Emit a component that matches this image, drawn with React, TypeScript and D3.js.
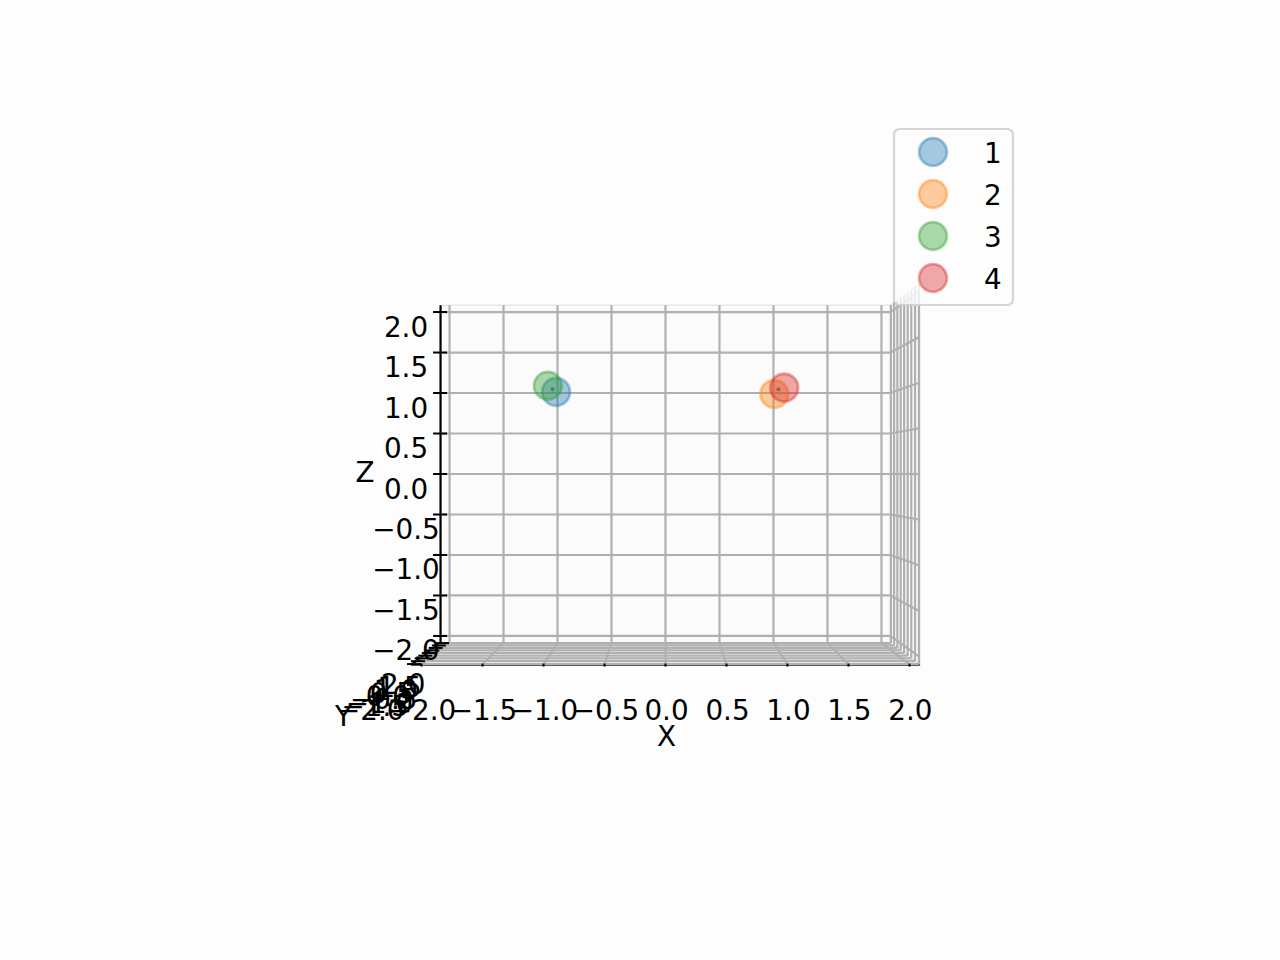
import * as d3 from 'd3';

// series (legend order)
const SERIES = ['1', '2', '3', '4'];
const COLORS = ['#1f77b4', '#ff7f0e', '#2ca02c', '#d62728'];
// point coordinates
const POINT_X = [-1, 1, -1, 1];
const POINT_Y = [1.6, 1.8, -0.9, -1.2];
const POINT_Z = [1.0, 0.98, 1.0, 0.97];
// small centre dots inside each pair
const CENTER_X = [-1, 1];
const CENTER_Y = [0.5, 0.5];
const CENTER_Z = [1, 1];

const LIMITS: [number, number] = [-2, 2];
const TICKS = [-2, -1.5, -1, -0.5, 0, 0.5, 1, 1.5, 2];

const W = 1280;
const H = 960;
const FONT = '"DejaVu Sans", sans-serif';
const FS = 27.8;
const GRID = '#b0b0b0';
const BG = '#fdfdfd';

// view: elev 0, azim -90, perspective
const PAD = (LIMITS[1] - LIMITS[0]) / 48;
const LO = LIMITS[0] - PAD;
const HI = LIMITS[1] + PAD;
const CX = 665.5;
const CY = 474;
const FOCAL = 3921;
const DIST = 34.23;
const Z_ASPECT = 0.75;

const depth = d3.scaleLinear().domain([LO, HI]).range([DIST + LO, DIST + HI]);

function proj(x: number, y: number, z: number): [number, number] {
  const k = FOCAL / depth(y);
  return [CX + k * x, CY - Z_ASPECT * k * z];
}

type P3 = [number, number, number];
const line = d3.line<[number, number]>();
const seg = (a: P3, b: P3) => line([proj(...a), proj(...b)]) as string;
const poly = (pts: P3[]) => (line(pts.map(p => proj(...p))) as string) + 'Z';

const fmt = d3.format('.1f');

export default function App() {
  const panes: P3[][] = [
    // back (y = HI)
    [[LO, HI, LO], [HI, HI, LO], [HI, HI, HI], [LO, HI, HI]],
    // floor (z = LO)
    [[LO, LO, LO], [HI, LO, LO], [HI, HI, LO], [LO, HI, LO]],
    // right (x = HI)
    [[HI, LO, LO], [HI, HI, LO], [HI, HI, HI], [HI, LO, HI]],
  ];

  const grids: string[] = [];
  TICKS.forEach(t => {
    // x grid: back + floor
    grids.push(seg([t, HI, LO], [t, HI, HI]));
    grids.push(seg([t, LO, LO], [t, HI, LO]));
    // y grid: floor + right
    grids.push(seg([LO, t, LO], [HI, t, LO]));
    grids.push(seg([HI, t, LO], [HI, t, HI]));
    // z grid: back + right
    grids.push(seg([LO, HI, t], [HI, HI, t]));
    grids.push(seg([HI, LO, t], [HI, HI, t]));
  });

  const points = SERIES.map((s, i) => ({
    s,
    color: COLORS[i],
    p: proj(POINT_X[i], POINT_Y[i], POINT_Z[i]),
    d: POINT_Y[i],
  })).sort((a, b) => b.d - a.d);

  const centers = CENTER_X.map((x, i) => proj(x, CENTER_Y[i], CENTER_Z[i]));

  const R = 13.9;

  return (
    <svg
      width={W}
      height={H}
      viewBox={`0 0 ${W} ${H}`}
      style={{ position: 'absolute', left: 0, top: 0, background: BG }}
      fontFamily={FONT}
      fontSize={FS}
    >
      <rect width={W} height={H} fill={BG} />

      {/* panes */}
      {panes.map((p, i) => (
        <path key={i} d={poly(p)} fill="rgba(242,242,242,0.12)" stroke="rgba(228,228,228,0.9)" strokeWidth={1.5} />
      ))}

      {/* axis lines */}
      <path d={seg([LO, LO, LO], [HI, LO, LO])} stroke="#000" strokeWidth={2.2} />
      <path d={seg([LO, LO, LO], [LO, HI, LO])} stroke="#000" strokeWidth={2.2} />
      <path d={seg([LO, HI, LO], [LO, HI, HI])} stroke="#000" strokeWidth={2.2} />

      {/* grid */}
      <g stroke={GRID} strokeWidth={2.2} fill="none">
        {grids.map((d, i) => (
          <path key={i} d={d} />
        ))}
      </g>

      {/* x ticks + labels */}
      {TICKS.map(t => {
        const [x, y] = proj(t, LO, LO);
        return (
          <g key={'x' + t}>
            <line x1={x} x2={x} y1={y - 1} y2={y + 2} stroke="#000" strokeWidth={2} />
            <text x={x + 1} y={y + 55} textAnchor="middle" fill="#000">{fmt(t)}</text>
          </g>
        );
      })}
      <text x={proj(0, LO, LO)[0] + 1} y={proj(0, LO, LO)[1] + 81} textAnchor="middle">X</text>

      {/* y ticks + labels */}
      {TICKS.map(t => {
        const [x, y] = proj(LO, t, LO);
        const [lx, ly] = proj(LO - 0.34, t, LO - 0.5);
        return (
          <g key={'y' + t}>
            <line x1={x - 5} x2={x + 9} y1={y} y2={y} stroke="#000" strokeWidth={2} />
            <text x={lx} y={ly + 10} textAnchor="middle" fill="#000">{fmt(t)}</text>
          </g>
        );
      })}
      <text x={proj(LO, LO, LO)[0] - 68} y={proj(LO, LO, LO)[1] + 61} textAnchor="middle">Y</text>

      {/* z ticks + labels */}
      {TICKS.map(t => {
        const [x, y] = proj(LO, HI, t);
        return (
          <g key={'z' + t}>
            <line x1={x - 7.5} x2={x + 6.5} y1={y} y2={y} stroke="#000" strokeWidth={2} />
            <text x={x - 34.5} y={y + 24.5} textAnchor="middle" fill="#000">{fmt(t)}</text>
          </g>
        );
      })}
      <text x={proj(LO, HI, 0)[0] - 75.5} y={proj(LO, HI, 0)[1] + 8} textAnchor="middle">Z</text>

      {/* scatter */}
      {points.map(pt => (
        <circle
          key={pt.s}
          cx={pt.p[0]}
          cy={pt.p[1]}
          r={R}
          fill={pt.color}
          fillOpacity={0.4}
          stroke={pt.color}
          strokeOpacity={0.4}
          strokeWidth={2.8}
        />
      ))}
      {centers.map((c, i) => (
        <circle key={'c' + i} cx={c[0]} cy={c[1]} r={2} fill="#333" fillOpacity={0.45} />
      ))}

      {/* legend */}
      <g>
        <rect x={894} y={129} width={119} height={176} rx={5.5} fill={BG} fillOpacity={0.8} stroke="#cccccc" strokeOpacity={0.8} strokeWidth={2.2} />
        {SERIES.map((s, i) => (
          <g key={s} transform={`translate(0,${152 + i * 42})`}>
            <circle cx={933} cy={0} r={R} fill={COLORS[i]} fillOpacity={0.4} stroke={COLORS[i]} strokeOpacity={0.4} strokeWidth={2.8} />
            <text x={984} y={10.5} fill="#000">{s}</text>
          </g>
        ))}
      </g>
    </svg>
  );
}
